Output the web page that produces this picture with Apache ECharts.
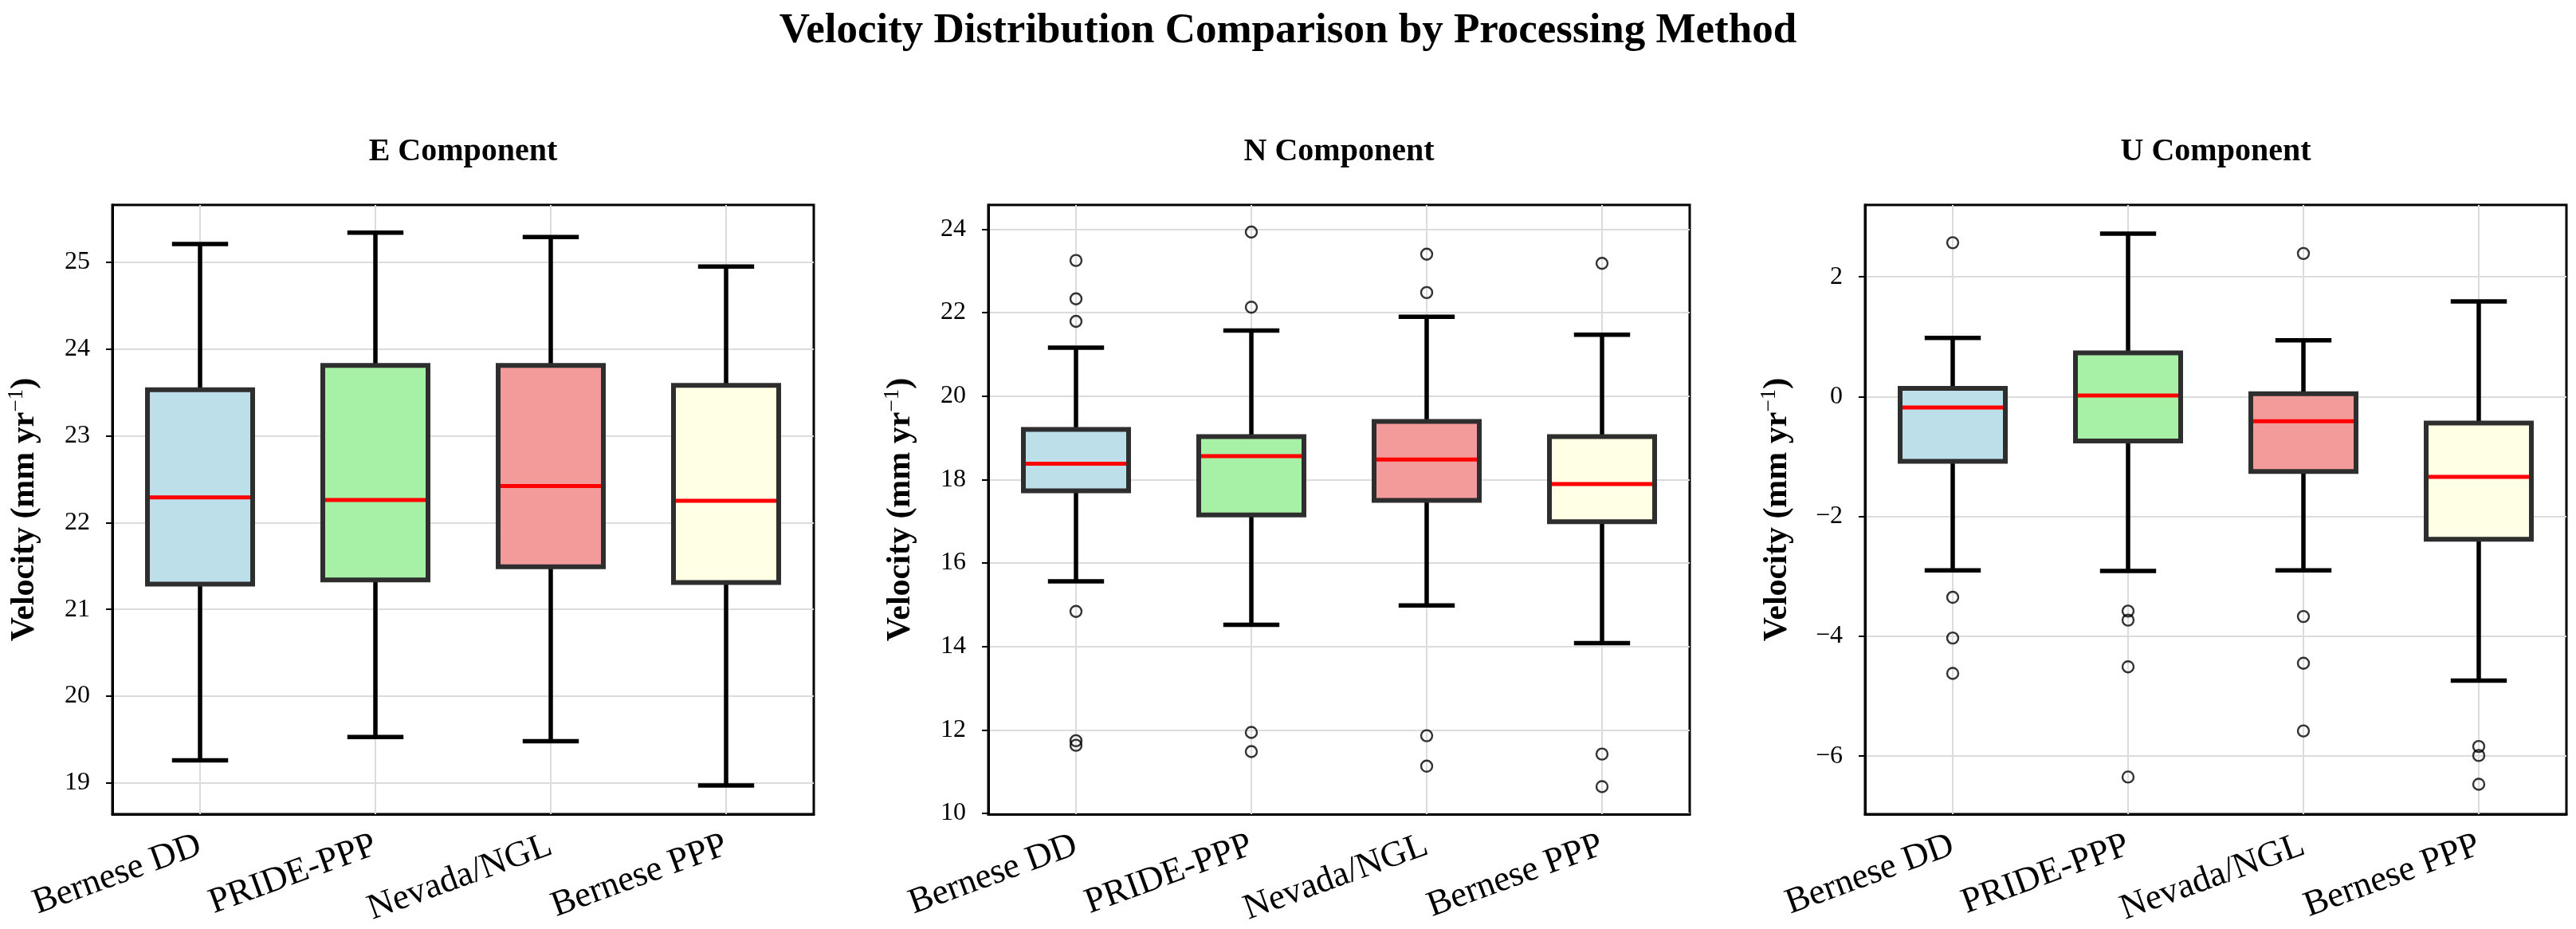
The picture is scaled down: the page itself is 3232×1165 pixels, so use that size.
<!DOCTYPE html>
<html>
<head>
<meta charset="utf-8">
<script src="https://cdn.jsdelivr.net/npm/echarts@6/dist/echarts.min.js"></script>
<style>
  html, body { margin: 0; padding: 0; background: #fff; }
  #chart { width: 3232px; height: 1165px; }
</style>
</head>
<body>
<div id="chart"></div>
<script>
var methods = ['Bernese DD', 'PRIDE-PPP', 'Nevada/NGL', 'Bernese PPP'];
var panelTitles = ['E Component', 'N Component', 'U Component'];
var mainTitle = 'Velocity Distribution Comparison by Processing Method';

// per method: [lower whisker, Q1, median, Q3, upper whisker]
var eStats = [
  [19.26, 21.29, 22.29, 23.53, 25.21],
  [19.53, 21.34, 22.26, 23.81, 25.34],
  [19.48, 21.49, 22.42, 23.81, 25.29],
  [18.97, 21.31, 22.25, 23.58, 24.95]
];
var nStats = [
  [15.56, 17.73, 18.38, 19.20, 21.16],
  [14.52, 17.15, 18.56, 19.03, 21.57],
  [14.98, 17.50, 18.48, 19.39, 21.90],
  [14.08, 16.99, 17.89, 19.03, 21.47]
];
var uStats = [
  [-2.90, -1.08, -0.18, 0.14, 0.98],
  [-2.91, -0.74, 0.02, 0.73, 2.72],
  [-2.90, -1.25, -0.41, 0.05, 0.94],
  [-4.74, -2.38, -1.34, -0.44, 1.59]
];

// outliers per method
var eOutliers = [[], [], [], []];
var nOutliers = [
  [23.25, 22.33, 21.79, 14.84, 11.74, 11.63],
  [23.93, 22.13, 11.94, 11.48],
  [23.40, 22.48, 11.86, 11.13],
  [23.18, 11.42, 10.64]
];
var uOutliers = [
  [2.57, -3.35, -4.03, -4.62],
  [-3.58, -3.73, -4.51, -6.35],
  [2.39, -3.67, -4.45, -5.58],
  [-5.84, -5.99, -6.47]
];

// y axis limits of each panel
var yLimits = [[18.64, 25.66], [9.98, 24.58], [-6.97, 3.20]];
var ySplits = [7, 7, 5];

var allStats = [eStats, nStats, uStats];
var allOutliers = [eOutliers, nOutliers, uOutliers];

var boxColors = ['#bcdfea', '#a6f1a6', '#f39a9a', '#ffffe5'];
var font = 'Liberation Serif';
var gridLefts = [141, 1240, 2340];
var gridTop = 257;
var gridW = 880;
var gridH = 764;

var chart = echarts.init(document.getElementById('chart'));

function renderBox(params, api) {
  var idx = api.value(0);
  var pLow = api.coord([idx, api.value(1)]);
  var pQ1 = api.coord([idx, api.value(2)]);
  var pMed = api.coord([idx, api.value(3)]);
  var pQ3 = api.coord([idx, api.value(4)]);
  var pHigh = api.coord([idx, api.value(5)]);
  var band = api.size([1, 0])[0];
  var half = band * 0.3;
  var capHalf = band * 0.16;
  var x = pMed[0];
  var wStyle = { stroke: '#000', lineWidth: 5.5 };
  return {
    type: 'group',
    children: [
      { type: 'line', shape: { x1: x, y1: pQ1[1], x2: x, y2: pLow[1] }, style: wStyle },
      { type: 'line', shape: { x1: x, y1: pQ3[1], x2: x, y2: pHigh[1] }, style: wStyle },
      { type: 'line', shape: { x1: x - capHalf, y1: pLow[1], x2: x + capHalf, y2: pLow[1] }, style: wStyle },
      { type: 'line', shape: { x1: x - capHalf, y1: pHigh[1], x2: x + capHalf, y2: pHigh[1] }, style: wStyle },
      {
        type: 'rect',
        shape: { x: x - half, y: pQ3[1], width: half * 2, height: pQ1[1] - pQ3[1] },
        style: { fill: boxColors[idx], stroke: '#2e2e2e', lineWidth: 6 }
      },
      {
        type: 'line',
        shape: { x1: x - half + 3, y1: pMed[1], x2: x + half - 3, y2: pMed[1] },
        style: { stroke: '#ff0000', lineWidth: 5 }
      }
    ]
  };
}

var titles = [{
  text: mainTitle,
  left: 'center',
  top: 8,
  textStyle: { fontFamily: font, fontSize: 53, fontWeight: 'bold', color: '#000' }
}];
var grids = [], xAxes = [], yAxes = [], series = [];

for (var p = 0; p < 3; p++) {
  titles.push({
    text: panelTitles[p],
    left: gridLefts[p] + gridW / 2 - 5,
    textAlign: 'center',
    top: 166,
    textStyle: { fontFamily: font, fontSize: 40, fontWeight: 'bold', color: '#000' }
  });
  grids.push({
    left: gridLefts[p], top: gridTop, width: gridW, height: gridH,
    show: true, borderColor: '#000', borderWidth: 3
  });
  xAxes.push({
    type: 'category',
    gridIndex: p,
    data: methods,
    axisLine: { onZero: false, lineStyle: { color: '#000', width: 3 } },
    axisTick: { alignWithLabel: true, length: 8, lineStyle: { color: '#000', width: 2 } },
    axisLabel: { rotate: 20, interval: 0, margin: 38, fontFamily: font, fontSize: 45, color: '#000' },
    splitLine: { show: false }
  });
  yAxes.push({
    type: 'value',
    gridIndex: p,
    min: yLimits[p][0],
    max: yLimits[p][1],
    splitNumber: ySplits[p],
    name: 'Velocity (mm yr{sup|\u22121})',
    nameLocation: 'middle',
    nameGap: 86,
    nameRotate: 90,
    nameTextStyle: {
      fontFamily: font, fontSize: 42, fontWeight: 'bold', color: '#000', lineHeight: 48,
      rich: { sup: { fontFamily: font, fontSize: 27, fontWeight: 'normal', color: '#000', lineHeight: 26, verticalAlign: 'top' } }
    },
    axisLine: { show: true, onZero: false, lineStyle: { color: '#000', width: 3 } },
    axisTick: { show: true, length: 8, lineStyle: { color: '#000', width: 2 } },
    axisLabel: {
      fontFamily: font, fontSize: 32, color: '#000', margin: 28,
      showMinLabel: false, showMaxLabel: false,
      formatter: function (v) { return String(v).replace('-', '\u2212'); }
    },
    splitLine: {
      show: true, showMinLine: false, showMaxLine: false,
      lineStyle: { color: '#dcdcdc', width: 2 }
    }
  });

  var boxData = allStats[p].map(function (s, i) { return [i].concat(s); });
  series.push({
    type: 'custom',
    xAxisIndex: p,
    yAxisIndex: p,
    renderItem: renderBox,
    encode: { x: 0, y: [1, 2, 3, 4, 5] },
    data: boxData,
    silent: true,
    markLine: {
      silent: true,
      z: 1,
      symbol: ['none', 'none'],
      label: { show: false },
      lineStyle: { color: '#dcdcdc', width: 2, type: 'solid' },
      data: methods.map(function (m) { return { xAxis: m }; })
    }
  });

  var outData = [];
  allOutliers[p].forEach(function (vals, i) {
    vals.forEach(function (v) { outData.push([i, v]); });
  });
  series.push({
    type: 'scatter',
    xAxisIndex: p,
    yAxisIndex: p,
    data: outData,
    symbol: 'circle',
    symbolSize: 14,
    silent: true,
    itemStyle: { color: 'rgba(0,0,0,0)', borderColor: '#000', borderWidth: 2.4 },
    z: 3
  });
}

chart.setOption({
  backgroundColor: '#fff',
  animation: false,
  title: titles,
  grid: grids,
  xAxis: xAxes,
  yAxis: yAxes,
  series: series
});
</script>
</body>
</html>
